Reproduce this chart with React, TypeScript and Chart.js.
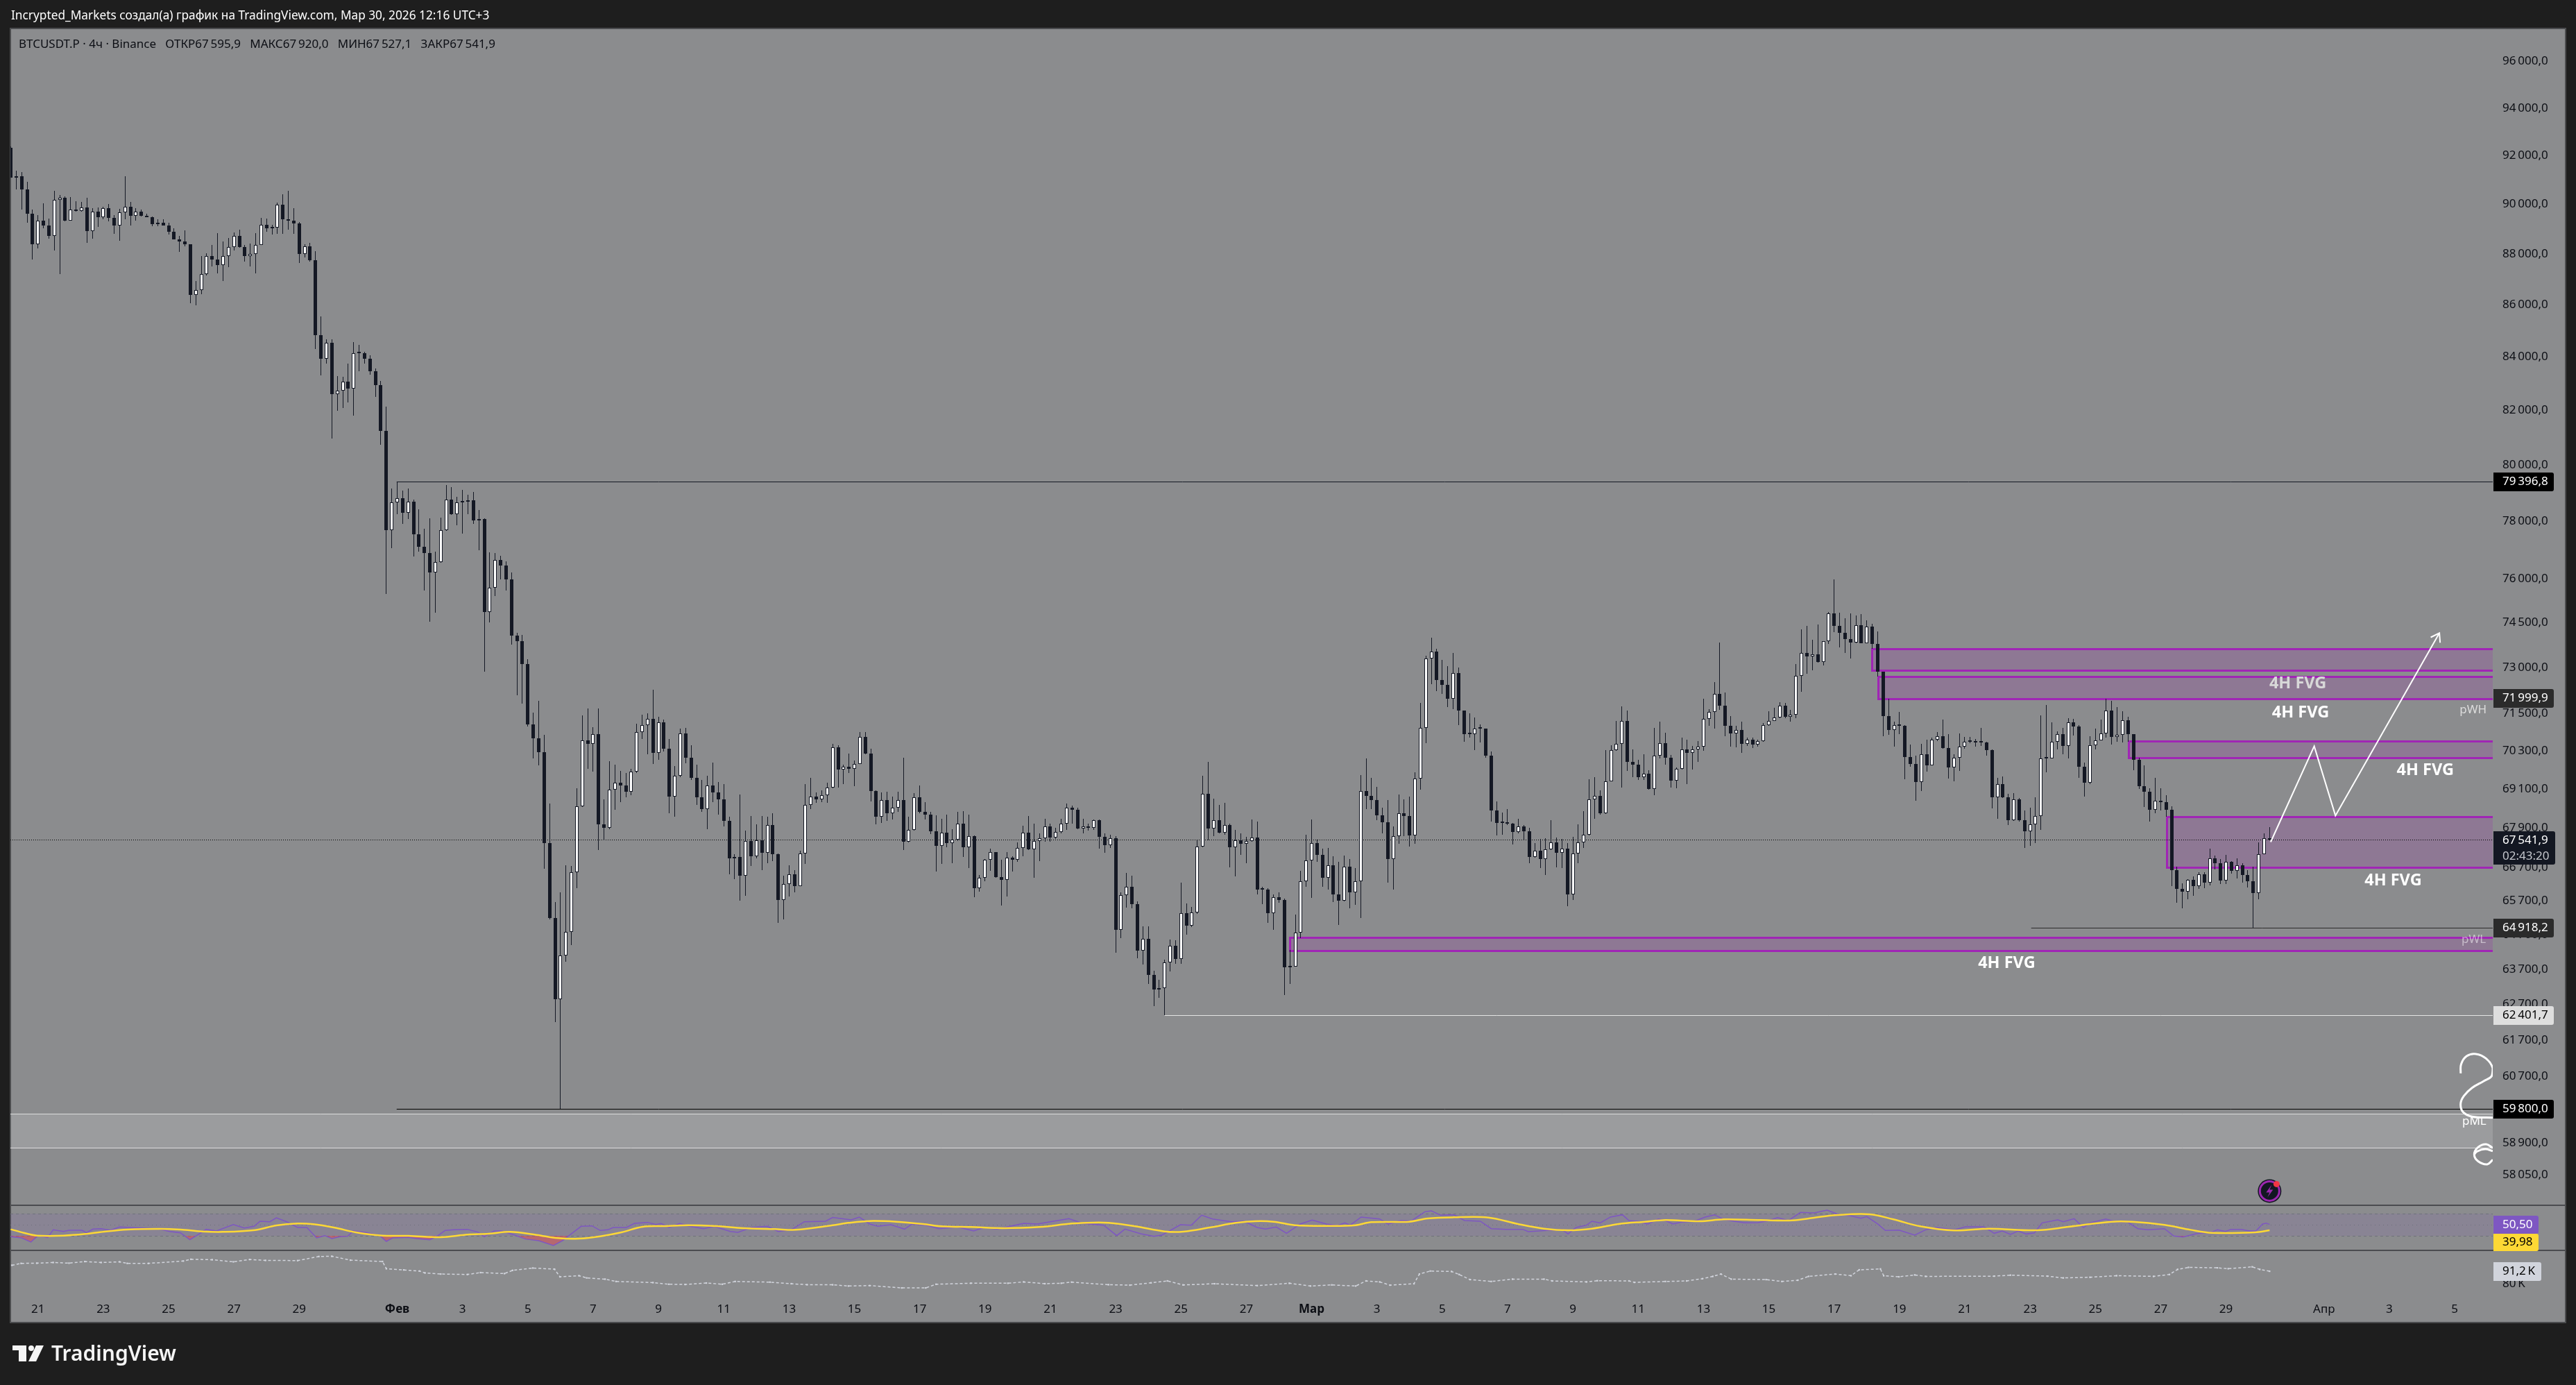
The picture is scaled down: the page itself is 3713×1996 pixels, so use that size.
import React, { useEffect, useRef } from "react";
import { Chart, registerables } from "chart.js";

Chart.register(...registerables);

const closes = [
91080,91150,90600,89630,88380,89350,89140,88730,90190,90270,
89350,89800,89720,89860,88920,89690,89470,89830,89440,89140,
89680,89890,89520,89690,89520,89490,89190,89260,89140,88890,
88590,88510,88380,86390,86590,87200,87920,87780,87560,87920,
88270,88720,88270,87920,88000,88350,89160,89020,89060,89990,
89380,89330,89220,87990,88300,87750,84830,83940,84540,82590,
82720,83060,82800,84150,84150,83940,83470,82930,81240,77690,
78670,78800,78290,78680,77530,77100,76880,76210,76570,77670,
78770,78250,78650,78680,78730,78030,78080,74860,75690,76640,
76440,75960,74060,73870,73110,71150,70700,70270,67440,65200,
62850,64090,64780,66560,68560,70650,70520,70850,68010,67910,
69090,69310,69220,69030,69650,70910,71120,71340,70240,71230,
70370,68880,69520,70860,70080,69450,68850,68480,69220,69010,
68790,68120,66980,67010,66460,67510,67030,67520,67150,68000,
67100,65720,66200,66500,66150,67120,68620,68880,68790,68920,
69150,70420,69710,69800,69750,69900,70760,70220,69040,68240,
68770,68360,68530,68760,67480,67850,68840,68390,68320,67790,
67350,67750,67440,67550,68030,67320,67640,66080,66380,66930,
67160,66410,66320,67000,66940,67300,67750,67240,67510,67590,
67950,67610,67780,68030,68530,68470,67890,67950,67910,68140,
67620,67370,67590,64850,65870,66120,65600,64240,64580,63540,
63130,63160,63900,64380,64000,65340,64970,65350,67330,68960,
67890,68140,67750,67990,67310,67530,67420,67510,67610,66040,
66030,65340,65810,65720,63760,63780,64770,66280,66910,67430,
67070,66400,66760,65890,65700,66730,65950,66280,69040,68890,
68760,68290,68080,66950,67640,68350,68270,67670,69430,71040,
73300,73530,72590,72440,71990,72830,71590,70850,70850,71010,
71010,70150,68440,68050,68050,68030,67770,67940,67800,67010,
67210,66950,67250,67460,67150,67270,65890,67130,67460,67690,
68780,68900,68350,69350,70330,70530,71260,69960,69870,69480,
69580,69100,70150,70550,70100,69370,69740,70350,70240,70350,
70440,71330,71560,72150,71760,71100,70870,70980,70520,70660,
70500,70610,71120,71260,71370,71760,71400,71470,72730,73480,
73380,73450,73190,73880,74810,74390,74150,73960,73840,74410,
73820,74370,73780,72860,71410,70980,71130,71110,70110,69900,
69330,70200,69840,70660,70780,70400,69790,70100,70440,70590,
70630,70570,70570,70340,68850,69260,68850,68140,68790,68130,
67790,68020,68270,70070,70070,70600,70830,70460,71230,71090,
69810,69310,70490,70650,70870,71610,70750,70820,71280,70840,
70020,69200,69030,68460,68740,68690,68460,66620,66050,65970,
66330,66150,66490,66240,66970,66830,66300,66860,66600,66760,
66470,66280,65930,67110,67595.9,67541.9];

const highs = [
92380,91390,91320,90930,89780,89550,90050,89430,90550,90380,
90320,90290,90120,90090,90260,89850,89870,89910,90010,89570,
89820,91150,90090,89850,89790,89620,89510,89400,89400,89260,
89040,88720,88940,88390,86940,87910,88040,88370,88830,88510,
88650,88870,88980,88360,88420,88830,89450,89430,89170,90080,
90400,90550,89840,89290,88390,88440,88120,85550,84670,84670,
83280,83250,83750,84560,84460,84190,84060,83560,83090,82140,
79160,79397,79090,79160,78750,78410,77740,78100,76930,78130,
79280,79210,78870,79110,78940,79040,78390,78100,76910,76880,
76790,76590,76210,74150,74090,73270,71540,71910,70820,68650,
65660,65950,66770,66750,69130,71450,71670,71070,71670,68790,
69970,69860,69670,69610,69730,71180,71470,71500,72270,71390,
71310,70680,69830,71020,71050,70480,69880,69380,69530,69940,
69330,69250,68240,67100,68940,67820,68270,68010,68270,68240,
68360,67120,66460,66770,66610,67200,69270,69450,69000,69060,
69300,70520,70480,69880,70220,70000,70900,70910,70380,69070,
69000,69030,68880,69030,70100,68240,68970,69220,68700,68390,
68300,68190,68320,67870,68390,68420,68320,67680,66480,66950,
67280,67170,66930,67160,67040,67470,67970,68260,68040,67730,
68180,68040,67900,68180,68650,68600,68530,68180,68040,68170,
68170,67740,67700,67650,65950,66540,66460,65680,64950,64950,
63650,63410,63970,64560,64540,66250,65620,65530,67520,69530,
69960,68800,68620,68670,68040,67850,67740,67620,68160,68100,
66120,66080,65890,65950,65760,64260,65300,66600,67700,68160,
67540,67260,67300,67040,66860,67060,66950,66690,69550,70070,
69460,69170,68530,68760,67950,68940,68790,68870,69640,71850,
73390,74000,73620,73260,73050,73490,73000,71600,71510,71370,
71160,71030,70290,68730,68380,68490,68060,68180,68000,67910,
67430,67560,67590,68150,67610,67560,67430,67620,68020,68420,
69420,69470,69070,70330,70490,71260,71730,71610,70350,70020,
70210,69700,71040,71250,70880,70170,69790,70720,70670,70470,
70630,71980,71640,72530,73840,72180,71430,71100,71250,70740,
70720,70670,71190,71580,71700,71860,71850,71630,73130,74280,
74400,73930,74440,73890,74850,75960,74830,74650,74810,74740,
74780,74580,74470,74200,72870,71980,71250,71560,71140,70510,
70150,70530,70670,70740,70910,71320,70840,70210,70860,70760,
70760,70690,71040,70590,70350,69460,69490,68960,68970,68820,
68440,68530,68840,71440,71780,71220,70940,71050,71350,71330,
71130,69940,70770,71020,71310,71990,71910,71710,71570,71400,
70850,70090,69840,69130,69460,69130,68910,68570,66720,66230,
66350,66440,66550,66550,67260,67050,66950,67070,66900,66970,
66820,66610,66720,67470,67745,67920];

const lows = [
91080,90600,89790,89250,87780,88210,89020,88610,88130,87200,
89300,89340,89710,89690,88450,88610,89080,89380,89320,88800,
88530,89400,89130,89350,89510,89480,89100,89100,89130,88770,
88580,88090,88320,86070,85990,86420,87160,87520,87240,86940,
87490,88150,88240,87690,87520,87240,88350,88900,88780,88810,
88820,88960,88800,87640,87860,87690,84300,83310,83750,80970,
81980,82080,82290,81800,83460,83750,83340,82500,80740,75470,
77050,78250,77910,78080,76760,76930,75600,74530,74830,76550,
77650,78220,77840,77570,78250,77910,76980,72870,74500,75390,
75960,75600,73770,72100,71830,71090,70060,69850,66670,65150,
62200,59800,63920,64410,66070,68550,69740,69650,67230,67520,
67870,68470,68700,68850,68920,69610,70680,70210,69900,70020,
70280,68360,68240,69480,69910,69400,68620,68390,67870,68700,
68320,67940,66490,66340,65700,65850,66750,66980,66610,66830,
66900,65060,65150,65830,65950,66140,66810,68480,68670,68700,
68670,69120,69150,69250,69610,69190,69890,70200,68730,68020,
68060,68120,68170,68390,67230,67450,67820,68360,68170,67720,
66580,66800,67320,66830,67510,67020,66680,65800,65970,66280,
66600,66400,65570,65840,66570,66880,67040,67220,66380,66890,
67480,67480,67560,67740,67850,68030,67870,67730,67820,67850,
67260,67140,67300,64190,64600,65510,65490,64020,63830,63290,
62650,62880,62400,63640,63850,63850,64700,64920,65320,67320,
67530,67650,67730,67700,66700,66430,67090,66820,67480,65900,
65600,65060,64850,65640,62960,63290,63770,64600,66120,65780,
66860,66120,66040,65670,64980,65680,65490,65590,65200,68490,
68490,68130,67740,66250,66040,67420,67640,67330,67410,69080,
70560,72450,72240,72150,71710,71640,71120,70600,70720,70330,
70580,70090,68090,67680,67700,68000,67390,67740,67540,66820,
67000,66690,66480,67220,66700,66690,65550,65730,66820,67290,
67670,68180,68310,68330,69340,70300,69160,69680,69480,69390,
69390,69080,68910,70070,69880,69160,69120,69710,69270,69710,
69950,70320,71100,71010,71620,70780,70440,70420,70240,70470,
70400,70440,70590,71100,71260,71360,71360,71240,71360,72210,
72810,72920,73160,73070,73780,74190,73680,73490,73300,73800,
73800,73800,73620,72700,70780,70820,70440,70840,69410,69810,
68740,69040,69650,69840,70630,70380,69430,69340,69670,70370,
70550,70440,70470,70150,68500,68180,68830,68000,68120,68090,
67290,67360,67430,67850,69630,70060,70350,70210,70060,70790,
69450,68880,69250,70350,70640,70720,70500,70590,70570,70600,
69690,69100,68550,68090,68350,68440,68250,66150,65655,65480,
65740,65860,66050,66070,66170,66640,66210,66210,66510,66360,
66250,66090,64918,65740,67110,67527.1];

const firstOpen = 92330;
const opens = [firstOpen, ...closes.slice(0, -1)];

const priceTicks = [96000,94000,92000,90000,88000,86000,84000,82000,80000,78000,76000,74500,73000,71500,70300,69100,67900,66700,65700,64700,63700,62700,61700,60700,58900,58050];
const volumeTicks = [80];

const tickDays = [0,2,4,6,8,11,13,15,17,19,21,23,25,27,29,31,33,35,37,39,41,43,45,47,49,51,53,55,57,59,61,63,65,67,70,72,74];
const tickLabels = ["21","23","25","27","29","Фев","3","5","7","9","11","13","15","17","19","21","23","25","27","Мар","3","5","7","9","11","13","15","17","19","21","23","25","27","29","Апр","3","5"];
const monthLabels = ["Фев", "Мар"];

// [candle index of left edge, upper price, lower price]
const fvgBoxes = [
  [341.9, 73620, 72907],
  [343.1, 72701, 71980],
  [389.1, 70612, 70082],
  [396.1, 68239, 66694],
  [235.0, 64615, 64231],
];

// [candle index of start, price, colour, line width]
const levels: [number, number, string, number][] = [
  [70.9, 79396.8, "#131722", 1],
  [70.9, 59800, "#000000", 1],
  [371.2, 64918.2, "#2b2b2b", 1],
  [212, 62401.7, "#e4e4e4", 1],
];
const lastPrice = 67541.9;
const rangeBand = [59680, 58760];

const fvgTexts: [number, number, string][] = [
  [420.2, 72473, "#d8d8d8"],
  [420.7, 71525, "#ffffff"],
  [443.6, 69687, "#ffffff"],
  [437.7, 66298, "#ffffff"],
  [366.7, 63871, "#ffffff"],
];
const levelTexts: [number, number, string, string][] = [
  [452.4, 71613, "pWH", "#dcdcdc"],
  [452.5, 64568, "pWL", "rgba(255,255,255,0.5)"],
  [452.6, 59479, "pML", "#ffffff"],
];

const arrowPath = [
  { x: 415.2, y: 67470 },
  { x: 423.2, y: 70456 },
  { x: 427.1, y: 68281 },
  { x: 446.2, y: 74152 },
];
const curlOne = [
  { x: 450.1, y: 60775 }, { x: 450.2, y: 61030 }, { x: 451.2, y: 61250 }, { x: 452.9, y: 61310 },
  { x: 454.8, y: 61180 }, { x: 456, y: 60920 }, { x: 455.8, y: 60700 }, { x: 454.3, y: 60560 },
  { x: 452.2, y: 60380 }, { x: 450.7, y: 60160 }, { x: 450.1, y: 59950 }, { x: 450.5, y: 59730 },
  { x: 452.2, y: 59600 }, { x: 456, y: 59570 },
];
const curlTwo = [
  { x: 456, y: 58760 }, { x: 454.8, y: 58860 }, { x: 453.3, y: 58780 }, { x: 452.6, y: 58590 },
  { x: 453.3, y: 58410 }, { x: 455, y: 58330 }, { x: 456, y: 58450 },
];
const curlThree = [
  { x: 456, y: 58680 }, { x: 454.6, y: 58730 }, { x: 453.1, y: 58670 }, { x: 452.6, y: 58590 },
];

const rsiIndex = [0,2,3.7,5,6.8,7.8,9.7,10.7,13.1,13.9,15.1,16.6,18.3,20,21.9,24.4,27.3,29.2,31.2,32.9,34.3,35.9,37.8,40.9,42.9,44.7,45.8,47.6,48.8,50.7,52.7,54.4,56.2,57.7,59,60.5,61.9,62.9,65.3,67.8,69,70.2,73.1,74.6,77,78.5,79.8,81.4,83.9,85.8,87,88.8,90.2,92.2,94.6,97,99.7,101.4,103.4,104.8,106.8,108.3,109.7,110.7,113.1,114.6,117,118.5,119.5,120.9,122.9,124.8,127.3,129.2,132.2,133.6,136.1,139,141,143.4,145.8,149.7,151,154.4,155.9,157.8,159.3,161.7,164.2,165.6,168.1,170.5,173.9,176.9,178.8,181.2,183.2,186.1,188.6,191,194.4,196.9,200.8,203.2,204.7,207.6,210,211.5,214.9,216.9,218.8,220.8,224.2,226.6,229,230.5,232.5,234.4,236.9,239.1,241.7,243.7,245.1,246.1,248.1,251.5,253,255.4,257.3,259.8,261,262.7,265.1,267.1,270,272,274.9,277.8,278.8,282.2,285.1,286.1,287.6,289.5,290.5,292,293.9,296.1,297.3,298.8,300.8,302.7,304,305.4,306.9,309.3,311.3,313,314.7,316.6,318.6,321,323,324.6,326.6,328.8,331.3,333.7,335.7,338.1,339.9,341,343,344.4,346.9,349.8,351.8,353.7,357.1,359.1,362.5,364.4,365.9,367.4,368.8,370.3,371.8,373.2,376.1,377.1,379.1,380.8,382,384.9,386.9,388.8,390.8,392.7,395.7,397.4,399.1,401.5,404.4,405.4,406.9,407.9,409.8,411.3,412.5,413.7,414.4,415];
const rsiValues = [28.3,26.3,18.8,30.4,27.1,40.8,37.9,40,40,35.4,42.1,42.9,40,45.8,45,43.8,42.1,37.9,35.4,22.9,31.3,41.7,38.8,50.4,44.2,47.1,56.3,55.4,62.5,55.4,45,45,26.3,30.4,25,28.3,29.2,38.8,35.8,30.4,20,26.3,27.1,25,22.9,30.4,39.6,40.8,41.7,36.7,28.3,38.8,38.8,32.5,24.2,21.3,12.5,21.3,36.7,47.1,47.9,39.6,40.8,45,45,52.5,54.2,50.4,52.1,45,52.1,47.1,42.9,47.1,37.9,36.3,45,47.1,37.9,40.8,55.4,56.3,63,58.8,63.8,51.3,47.1,50,42.1,51.3,49.2,42.9,46.3,38.8,45,42.1,46.3,52.5,51.3,55.4,60.8,52.5,49.2,30.4,42.1,33.8,29.2,31.3,50,49.2,67.1,60.4,55.4,56.3,45,42.1,45.8,34.6,51.3,58.3,51.3,48.3,53.3,49.2,63.8,60.4,51.3,57.5,56.7,73.3,75,67.1,67.9,57.5,56.3,42.9,41.7,41.7,37.5,39.6,40.8,33.3,45,49.2,56.3,53.3,63.8,67.9,57.5,56.3,51.3,60.4,57.5,51.3,54.6,56.3,63.8,67.9,59.6,56.3,53.3,53.8,57.5,62.9,57.5,72.1,71.3,76.3,68.8,65.8,61.7,64.6,51.3,39.6,40.4,31.3,40.8,45,40.8,46.3,46.3,34.6,38.8,32.5,38.8,33.3,35.4,53.3,58.8,55.4,60.8,45,53.3,60.4,54.6,55.4,42.9,40.8,42.9,29.6,27.9,33.8,36.7,40.8,37.9,41.7,41.7,38.8,38.8,51.3,52.9,50.5];

const maIndex = [0,2.4,4.8,9.7,14.1,17.5,21.4,27.3,31.2,35.1,39,44.9,48.8,52.7,55.6,59.5,63.4,68.3,73.1,79,83.9,87.8,91.7,96.6,100.5,104.4,108.3,112.2,116.1,120,124.4,129.7,134.6,140.4,144.3,151,153.9,157.8,162.7,167.6,171,176.4,182.2,189,194.9,198.8,201.7,206.6,212,215.4,220.3,225.1,228.6,232,235.9,242.7,247.1,250,256.9,260.3,265.1,271.5,276.9,281.7,286.1,290.5,295.4,300.3,304,310.3,314.7,321.5,327.4,331.3,335.2,341.5,345.9,350.8,357.1,363.5,372.2,378.1,385.9,389.8,395.7,400.5,404.4,412.3,415];
const maValues = [41.7,35.4,30.4,30.4,33.8,37.9,41.3,42.5,41.3,37.9,37.1,40.4,48.8,52.1,50.8,44.6,36.3,30.4,30,27.5,32.1,33.8,37.1,31.7,25.8,25,29.2,36.3,46.3,47.5,49.2,47.5,43.8,42.1,40.8,49,53.3,56.7,55.4,51.3,47.1,45.8,43.8,45.8,52.1,53.8,53.3,47.1,37.9,37.5,45,53.3,56.3,55.4,49.2,47.9,49.2,54.6,55.4,61.3,63.3,62.9,51.3,42.9,40,42.9,51.3,55.4,58.3,56.3,59.6,58.3,57.9,62.5,67.1,68.8,59.6,47.1,39.6,42.9,40,46.3,55.4,55.4,49.6,40.8,35.4,36.3,39.98];

const volIndex = [0.2,1.9,4.8,7.8,10.7,13.6,16.6,20,21.4,25.3,31.7,33.1,37,40.9,43.9,46.8,52.7,56.6,59,62.4,68.3,69,72.2,75.1,76.1,79,83.9,86.3,90.7,92.2,95.9,99.9,100.9,104.4,105.8,109.2,111.2,118,120.9,123.9,127.8,130.7,133.1,139.5,143.4,146.3,151,153.9,157.8,163.7,168.1,170,176.4,183.2,186.1,190,193,194.9,201.7,205.6,209.5,212.5,215.4,221.2,229,234.9,238.8,242.7,247.1,249,251.5,253.4,257.8,258.8,260.8,264.7,266.1,268.1,272,275.9,281.7,283.2,289.5,291.5,297.3,298.3,304,307.9,310.8,312.7,314.2,316.1,322.5,325.4,328.3,330.3,335.2,338.1,339.6,343.5,344.1,346.9,349.8,351.8,364.4,367.4,374.2,377.1,382,386.9,393.7,396.6,398.1,400.1,405.4,407.4,411.8,413.2,415];
const volValues = [96.6,98.3,98.5,99.1,98.5,99.95,99.1,99.7,98.3,98.3,100.4,102,101.6,99.7,101.8,101,100.8,104.5,104.7,101.2,100,93.5,92.4,91.4,89.7,88.7,88.3,90,89.1,92,94.1,93.1,86.2,87.2,85.2,84.1,82,81,79.5,79.3,80.6,79.5,82,81.4,80,79.1,79,77.9,78.3,76.2,76.2,79.5,80.4,80.4,81.6,80,80.4,81.4,79.1,78.7,80.8,82.5,78.9,79.95,78.3,80.4,77.9,78.9,77.9,82.5,81.6,78.7,79.95,88.7,91.4,91,88.3,83.7,82,84.1,84.1,82.5,81.6,82.7,82.5,81.2,82,82.5,84.5,86.6,88.7,84.1,83.7,82,83.1,86.6,88.7,87.2,92.5,93.3,87.2,86.2,87.9,86.6,86.8,87.7,86.8,85.2,85.8,87.2,86.6,88.3,92.9,94.7,94.3,93.5,95.2,92.9,91.2];

const titleText = "Incrypted_Markets создал(а) график на TradingView.com, Мар 30, 2026 12:16 UTC+3";
const legendText = "BTCUSDT.P · 4ч · Binance   ОТКР67\u2009595,9   МАКС67\u2009920,0   МИН67\u2009527,1   ЗАКР67\u2009541,9";
const countdownText = "02:43:20";

const FONT = '"Noto Sans", sans-serif';
const BG = "#8b8c8e";
const FRAME = "#1e1e1e";
const CANDLE = "#141824";

const fmtPrice = (v: number) => {
  const s = v.toFixed(1).replace(".", ",");
  const [a, b] = s.split(",");
  return a.replace(/\B(?=(\d{3})+$)/g, "\u2009") + "," + b;
};

const tagList: [number, string, string][] = [
  [79396.8, "#000000", "#ffffff"],
  [71999.9, "#2b2b2b", "#ffffff"],
  [64918.2, "#2b2b2b", "#ffffff"],
  [62401.7, "#dedede", "#000000"],
  [59800, "#000000", "#ffffff"],
];

const paintPlugin = {
  id: "paint",
  afterDatasetsUpdate(chart: any) {
    chart.data.datasets.forEach((d: any, i: number) => {
      if (d.type !== "bar") return;
      chart.getDatasetMeta(i).data.forEach((el: any) => {
        el.x = Math.floor(el.x) + 0.5;
        el.y = Math.round(el.y);
        el.base = Math.round(el.base);
      });
    });
  },
  beforeDraw(chart: any) {
    const c = chart.ctx;
    c.save();
    c.fillStyle = FRAME;
    c.fillRect(0, 0, chart.width, chart.height);
    c.fillStyle = BG;
    c.fillRect(15, 41, 3683, 1865);
    c.strokeStyle = "#4b4c4e";
    c.lineWidth = 2;
    c.strokeRect(15, 41, 3683, 1865);
    c.fillStyle = "#ffffff";
    c.font = `17.3px ${FONT}`;
    c.textBaseline = "middle";
    c.textAlign = "left";
    c.fillText(titleText, 16, 23);
    // logo
    c.fillStyle = "#f5f5f5";
    c.fillRect(18, 1939, 20, 7);
    c.fillRect(27, 1939, 11, 23);
    c.beginPath();
    c.arc(45, 1943, 4, 0, Math.PI * 2);
    c.fill();
    c.beginPath();
    c.moveTo(52, 1939);
    c.lineTo(63, 1939);
    c.lineTo(52, 1962);
    c.lineTo(41, 1962);
    c.closePath();
    c.fill();
    c.font = `600 30px ${FONT}`;
    c.fillText("TradingView", 74, 1952);
    c.restore();
  },
  beforeDatasetsDraw(chart: any) {
    const c = chart.ctx;
    const { x, y, yRsi, yVol } = chart.scales;
    const L = x.left, R = x.right;
    c.save();
    // grey range band
    const b0 = Math.round(y.getPixelForValue(rangeBand[0]));
    const b1 = Math.round(y.getPixelForValue(rangeBand[1]));
    c.fillStyle = "rgba(255,255,255,0.14)";
    c.fillRect(L, b0, R - L, b1 - b0);
    c.strokeStyle = "#dcdcdc";
    c.lineWidth = 1;
    [b0, b1].forEach((p) => {
      c.beginPath();
      c.moveTo(L, p + 0.5);
      c.lineTo(R, p + 0.5);
      c.stroke();
    });
    // FVG boxes
    fvgBoxes.forEach(([i, hi, lo]) => {
      const bx = Math.round(x.getPixelForValue(i));
      const t = Math.round(y.getPixelForValue(hi));
      const bt = Math.round(y.getPixelForValue(lo));
      c.fillStyle = "rgba(156,39,176,0.2)";
      c.fillRect(bx, t, R - bx, bt - t);
      c.fillStyle = "#a025b5";
      c.fillRect(bx, t - 1, R - bx, 3);
      c.fillRect(bx, bt - 1, R - bx, 3);
      c.fillRect(bx - 1, t - 1, 3, bt - t + 3);
    });
    // horizontal levels
    levels.forEach(([i, p, col, w]) => {
      const py = Math.round(y.getPixelForValue(p)) + 0.5;
      c.strokeStyle = col;
      c.lineWidth = w;
      c.beginPath();
      c.moveTo(x.getPixelForValue(i), py);
      c.lineTo(R, py);
      c.stroke();
    });
    // last price
    const lp = Math.round(y.getPixelForValue(lastPrice)) + 0.5;
    c.strokeStyle = "#000000";
    c.lineWidth = 1;
    c.setLineDash([1, 2]);
    c.beginPath();
    c.moveTo(L, lp);
    c.lineTo(R, lp);
    c.stroke();
    // RSI band
    const r70 = Math.round(yRsi.getPixelForValue(70));
    const r50 = Math.round(yRsi.getPixelForValue(50));
    const r30 = Math.round(yRsi.getPixelForValue(30));
    c.setLineDash([]);
    c.fillStyle = "rgba(126,87,194,0.13)";
    c.fillRect(L, r70, R - L, r30 - r70);
    c.strokeStyle = "rgba(108,110,120,0.9)";
    c.setLineDash([4, 4]);
    [r70, r30].forEach((p) => {
      c.beginPath();
      c.moveTo(L, p + 0.5);
      c.lineTo(R, p + 0.5);
      c.stroke();
    });
    c.setLineDash([1, 5]);
    c.beginPath();
    c.moveTo(L, r50 + 0.5);
    c.lineTo(R, r50 + 0.5);
    c.stroke();
    c.setLineDash([]);
    // pane separators
    c.fillStyle = "#4b4c50";
    c.fillRect(15, yRsi.top - 1, 3683, 2);
    c.fillRect(15, yVol.top - 1, 3683, 2);
    c.restore();
  },
  afterDatasetsDraw(chart: any) {
    const c = chart.ctx;
    const { x, y, yRsi, yVol } = chart.scales;
    c.save();
    c.textBaseline = "middle";
    // arrow head
    const e = arrowPath[arrowPath.length - 1], s = arrowPath[arrowPath.length - 2];
    const ex = x.getPixelForValue(e.x), ey = y.getPixelForValue(e.y);
    const sx = x.getPixelForValue(s.x), sy = y.getPixelForValue(s.y);
    const a = Math.atan2(ey - sy, ex - sx);
    c.strokeStyle = "#ffffff";
    c.lineWidth = 2;
    c.beginPath();
    c.moveTo(ex + 14 * Math.cos(a + 2.55), ey + 14 * Math.sin(a + 2.55));
    c.lineTo(ex, ey);
    c.lineTo(ex + 14 * Math.cos(a - 2.55), ey + 14 * Math.sin(a - 2.55));
    c.stroke();
    // legend
    c.fillStyle = "#0c0e14";
    c.font = `17px ${FONT}`;
    c.textAlign = "left";
    c.fillText(legendText, 27, 64);
    // FVG labels
    c.textAlign = "center";
    c.font = `bold 23.5px ${FONT}`;
    fvgTexts.forEach(([i, p, col]) => {
      c.fillStyle = col;
      c.fillText("4H FVG", x.getPixelForValue(i), y.getPixelForValue(p));
    });
    c.font = `17px ${FONT}`;
    levelTexts.forEach(([i, p, t, col]) => {
      c.fillStyle = col;
      c.fillText(t, x.getPixelForValue(i), y.getPixelForValue(p));
    });
    // price tags
    c.textAlign = "left";
    const tag = (top: number, h: number, w: number, bg: string, fg: string, t: string) => {
      c.fillStyle = bg;
      c.beginPath();
      c.roundRect(3594, top, w, h, [0, 3, 3, 0]);
      c.fill();
      c.fillStyle = fg;
      c.fillText(t, 3607, top + h / 2);
    };
    tagList.forEach(([p, bg, fg]) => {
      const py = Math.round(y.getPixelForValue(p));
      tag(py - 13, 27, 87, bg, fg, fmtPrice(p));
    });
    const lp = Math.round(y.getPixelForValue(lastPrice));
    c.fillStyle = "#131722";
    c.beginPath();
    c.roundRect(3594, lp - 12, 89, 48, [0, 3, 3, 0]);
    c.fill();
    c.fillStyle = "#ffffff";
    c.fillText(fmtPrice(lastPrice), 3607, lp + 1);
    c.fillStyle = "#c4c6cc";
    c.fillText(countdownText, 3607, lp + 24);
    const rsiTop = Math.round(yRsi.getPixelForValue(rsiValues[rsiValues.length - 1])) - 13;
    tag(rsiTop, 26, 65, "#7e57c2", "#ffffff", "50,50");
    tag(rsiTop + 26, 25, 65, "#fdd835", "#000000", "39,98");
    const vt = Math.round(yVol.getPixelForValue(volValues[volValues.length - 1]));
    tag(vt - 13, 27, 69, "#d1d4dc", "#000000", "91,2\u2009K");
    // indicator badge
    const ix = x.getPixelForValue(415), iy = y.getPixelForValue(57630);
    c.fillStyle = "#131722";
    c.beginPath();
    c.ellipse(ix, iy, 17, 17, 0, 0, Math.PI * 2);
    c.fill();
    c.strokeStyle = "#9c27b0";
    c.lineWidth = 3;
    c.beginPath();
    c.ellipse(ix, iy, 14, 14, 0, 0, Math.PI * 2);
    c.stroke();
    c.fillStyle = "#9c27b0";
    c.beginPath();
    c.moveTo(ix + 3, iy - 9);
    c.lineTo(ix - 5, iy + 2);
    c.lineTo(ix, iy + 2);
    c.lineTo(ix - 3, iy + 9);
    c.lineTo(ix + 5, iy - 2);
    c.lineTo(ix, iy - 2);
    c.closePath();
    c.fill();
    c.fillStyle = "#f23645";
    c.beginPath();
    c.arc(ix + 10, iy - 10, 4.5, 0, Math.PI * 2);
    c.fill();
    c.restore();
  },
};

export default function App() {
  const ref = useRef<HTMLCanvasElement | null>(null);
  useEffect(() => {
    document.body.style.margin = "0";
    document.body.style.background = FRAME;
    const toPoints = (xs: number[], ys: number[]) => xs.map((v, i) => ({ x: v, y: ys[i] }));
    const labelFor = (value: number) => tickLabels[tickDays.findIndex((d) => 5 + 6 * d === value)];
    const noGrid = { display: false, drawTicks: false };
    const tickFont = { family: FONT, size: 17 };
    const whitePath = { type: "line", yAxisID: "y", borderColor: "#ffffff", pointRadius: 0, fill: false, order: 0 };

    const chart = new Chart(ref.current as any, {
      type: "bar",
      data: {
        datasets: [
          {
            type: "bar",
            yAxisID: "y",
            order: 3,
            grouped: false,
            barThickness: 1,
            backgroundColor: CANDLE,
            borderWidth: 0,
            inflateAmount: 0,
            data: highs.map((h, i) => ({ x: i, y: [lows[i], h] })),
          },
          {
            type: "bar",
            yAxisID: "y",
            order: 2,
            grouped: false,
            barThickness: 5,
            minBarLength: 2,
            borderSkipped: false,
            borderWidth: 1,
            inflateAmount: 0,
            borderColor: CANDLE,
            backgroundColor: closes.map((v, i) => (v > opens[i] ? "#ffffff" : CANDLE)),
            data: closes.map((v, i) => ({ x: i, y: [opens[i], v] })),
          },
          { ...whitePath, borderWidth: 2, tension: 0, data: arrowPath },
          { ...whitePath, borderWidth: 3, tension: 0.4, data: curlOne },
          { ...whitePath, borderWidth: 3, tension: 0.4, data: curlTwo },
          { ...whitePath, borderWidth: 3, tension: 0.4, data: curlThree },
          {
            type: "line",
            yAxisID: "yRsi",
            order: 1,
            borderColor: "#7e57c2",
            borderWidth: 1.5,
            pointRadius: 0,
            tension: 0,
            fill: { target: { value: 30 }, above: "rgba(0,0,0,0)", below: "rgba(242,54,69,0.42)" },
            data: toPoints(rsiIndex, rsiValues),
          },
          {
            type: "line",
            yAxisID: "yRsi",
            order: 0,
            borderColor: "#fdd835",
            borderWidth: 2.5,
            pointRadius: 0,
            tension: 0.35,
            fill: false,
            data: toPoints(maIndex, maValues),
          },
          {
            type: "line",
            yAxisID: "yVol",
            order: 0,
            borderColor: "#d1d4dc",
            backgroundColor: "#d1d4dc",
            borderWidth: 1.5,
            borderDash: [4, 3],
            pointStyle: "rect",
            pointRadius: 1.6,
            pointBorderWidth: 0,
            tension: 0,
            fill: false,
            data: toPoints(volIndex, volValues),
          },
        ],
      } as any,
      options: {
        responsive: false,
        animation: false,
        events: [],
        devicePixelRatio: 1,
        layout: { padding: { left: 15, top: 41, right: 15, bottom: 90 } },
        plugins: { legend: { display: false }, tooltip: { enabled: false }, title: { display: false } },
        scales: {
          x: {
            type: "linear",
            position: "bottom",
            offset: false,
            bounds: "data",
            min: -0.064,
            max: 456,
            grid: { ...noGrid, offset: false },
            border: { display: false },
            afterBuildTicks: (s: any) => {
              s.ticks = tickDays.map((d) => ({ value: 5 + 6 * d }));
            },
            afterFit: (s: any) => {
              s.height = 32;
            },
            ticks: {
              autoSkip: false,
              maxRotation: 0,
              padding: 3,
              color: "#0c0e14",
              callback: (v: number) => labelFor(v),
              font: (ctx: any) => ({
                ...tickFont,
                weight: ctx.tick && monthLabels.includes(labelFor(ctx.tick.value)) ? "bold" : "normal",
              }),
            },
          },
          y: {
            type: "logarithmic",
            position: "right",
            stack: "panes",
            stackWeight: 1696,
            weight: 1,
            bounds: "data",
            min: 57259,
            max: 97441,
            grid: noGrid,
            border: { display: false },
            afterBuildTicks: (s: any) => {
              s.ticks = priceTicks.map((v) => ({ value: v }));
            },
            afterFit: (s: any) => {
              s.width = 105;
            },
            ticks: { autoSkip: false, padding: 14, color: "#0c0e14", font: tickFont, callback: (v: number) => fmtPrice(Number(v)) },
          },
          yRsi: {
            type: "linear",
            position: "right",
            stack: "panes",
            stackWeight: 65,
            weight: 2,
            bounds: "data",
            min: 3.75,
            max: 85,
            grid: noGrid,
            border: { display: false },
            afterFit: (s: any) => {
              s.width = 105;
            },
            ticks: { display: false },
          },
          yVol: {
            type: "linear",
            position: "right",
            stack: "panes",
            stackWeight: 72,
            weight: 3,
            bounds: "data",
            min: 65,
            max: 110,
            grid: noGrid,
            border: { display: false },
            afterBuildTicks: (s: any) => {
              s.ticks = volumeTicks.map((v) => ({ value: v }));
            },
            afterFit: (s: any) => {
              s.width = 105;
            },
            ticks: { autoSkip: false, padding: 14, color: "#0c0e14", font: tickFont, callback: (v: number) => `${v}\u2009K` },
          },
        },
      } as any,
      plugins: [paintPlugin] as any,
    });
    return () => chart.destroy();
  }, []);
  return (
    <div style={{ position: "absolute", left: 0, top: 0, width: 3713, height: 1996 }}>
      <canvas ref={ref} width={3713} height={1996} style={{ display: "block", width: 3713, height: 1996 }} />
    </div>
  );
}
